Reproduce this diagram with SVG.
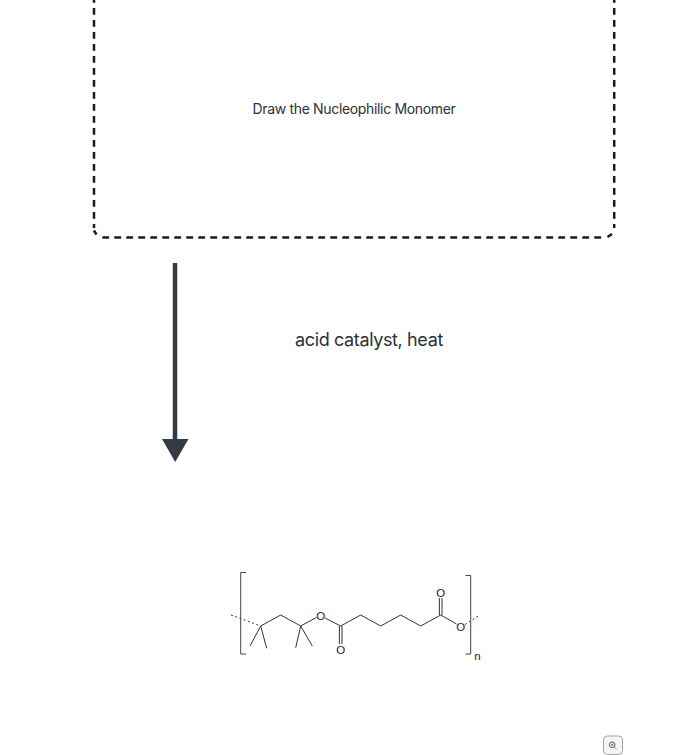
<svg xmlns="http://www.w3.org/2000/svg" width="686" height="755" viewBox="0 0 686 755">
<style>
.dash{fill:none;stroke:#1a1a1a;stroke-width:2.5;stroke-dasharray:6.800 5.200}
.corner{fill:none;stroke:#1a1a1a;stroke-width:2.5}
.bond{fill:none;stroke:#333;stroke-width:1}
.hash{fill:none;stroke:#333;stroke-width:1;stroke-dasharray:2 2.500}
.brk{fill:none;stroke:#444;stroke-width:1}
.atom{font-family:"Liberation Sans",Arial,sans-serif;font-size:11.500px;fill:#222;text-anchor:middle}
.lbl{font-family:Inter,"Liberation Sans",sans-serif;fill:#2c3138;text-anchor:middle}
</style>
<g id="dropzone">
<path class="dash" d="M94 -4V228"/>
<path class="dash" d="M614.200 -4V228"/>
<path class="dash" d="M102.300 237.600H606"/>
<path class="corner" d="M93.900 230.500L96.500 234.500M607.500 237L612 234"/>
<text class="lbl" x="354" y="113.500" font-size="14" letter-spacing="-0.34">Draw the Nucleophilic Monomer</text>
</g>
<g id="connectors">
<path d="M175 263V441" fill="none" stroke="#343b45" stroke-width="4.500"/>
<path d="M162 439H188.500L175.200 462Z" fill="#343b45"/>
</g>
<g id="condition">
<text class="lbl" x="369" y="346" font-size="18" letter-spacing="-0.38">acid catalyst, heat</text>
</g>
<g id="polymer">
<path class="hash" d="M231 615L260.700 626"/>
<path class="bond" d="M260.700 626L280.700 615L300.700 626L316.500 617.500M325 618L340.700 626L360.700 615L380.700 626L400.700 615L420.700 626L440.700 615L456.500 624"/>
<path class="bond" d="M260.700 626L250 646M260.700 626L266.700 648.300M300.700 626L295.700 647.700M300.700 626L312.300 646"/>
<path class="bond" d="M339.400 626V644M342 626V644M439.400 615V598M442 615V598"/>
<path class="hash" d="M465 624.500L480 615"/>
<path class="brk" d="M246 572.500H240.700V654H246M465.500 575.500H470.700V654H465.500"/>
<text class="atom" x="320.700" y="619.800">O</text>
<text class="atom" x="340.700" y="654.200">O</text>
<text class="atom" x="440.700" y="596.800">O</text>
<text class="atom" x="460.700" y="630.800">O</text>
<text class="atom" x="477.500" y="659.500" font-size="9">n</text>
</g>
<g id="zoom-button">
<rect x="603.500" y="736" width="19" height="18.500" rx="4" fill="#f6f6f6" stroke="#a0a0a0" stroke-width="1"/>
<circle cx="612.200" cy="744.800" r="2.800" fill="none" stroke="#555" stroke-width="1"/>
<path d="M614.300 746.900L616.500 749M611 744.800H613.400M612.200 743.600V746" fill="none" stroke="#555" stroke-width="0.800"/>
</g>
</svg>
